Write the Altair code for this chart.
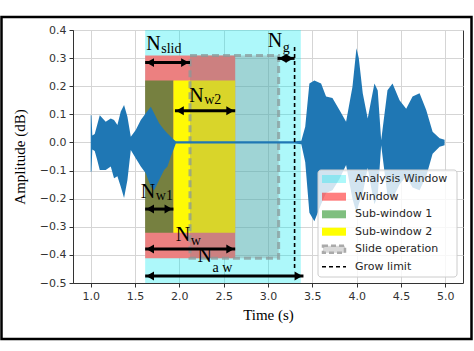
import altair as alt
import pandas as pd

# ---------------- data ----------------
# waveform envelope (time s, upper and lower amplitude)
wave_t = [1.000, 1.008, 1.018, 1.045, 1.071, 1.102, 1.169, 1.226, 1.263, 1.301,
          1.339, 1.376, 1.414, 1.452, 1.508, 1.565, 1.621, 1.678, 1.715, 1.772,
          1.828, 1.866, 1.904, 1.941, 1.960, 2.400, 2.800, 3.300, 3.376, 3.420,
          3.467, 3.523, 3.599, 3.655, 3.727, 3.806, 3.881, 3.953, 3.998, 4.024,
          4.069, 4.125, 4.164, 4.201, 4.238, 4.277, 4.348, 4.405, 4.484, 4.559,
          4.631, 4.710, 4.785, 4.857, 4.936, 4.992]
wave_top = [0.097, 0.097, 0.025, 0.030, 0.060, 0.097, 0.074, 0.085, 0.080, 0.062,
            0.110, 0.133, 0.091, 0.020, 0.044, 0.080, 0.104, 0.127, 0.104, 0.068,
            0.045, 0.032, 0.020, 0.009, 0.004, 0.004, 0.004, 0.004, 0.006, 0.056,
            0.210, 0.220, 0.210, 0.163, 0.158, 0.115, 0.074, 0.198, 0.335, 0.300,
            0.175, 0.085, 0.150, 0.210, 0.185, 0.008, 0.186, 0.210, 0.150, 0.120,
            0.163, 0.175, 0.115, 0.038, 0.015, 0.010]
wave_bot = [-0.104, -0.104, -0.025, -0.030, -0.060, -0.098, -0.098, -0.086, -0.127, -0.120,
            -0.158, -0.198, -0.134, -0.027, -0.056, -0.086, -0.110, -0.158, -0.170, -0.134,
            -0.098, -0.086, -0.050, -0.020, -0.004, -0.004, -0.004, -0.004, -0.006, -0.070,
            -0.250, -0.280, -0.220, -0.180, -0.170, -0.130, -0.080, -0.200, -0.250, -0.220,
            -0.180, -0.090, -0.160, -0.220, -0.190, -0.010, -0.190, -0.200, -0.150, -0.120,
            -0.160, -0.170, -0.120, -0.040, -0.015, -0.010]

# shaded windows
region_names = ["Analysis Window", "Window", "Sub-window 1", "Sub-window 2"]
region_x1 = [1.614, 1.614, 1.614, 1.933]
region_x2 = [3.370, 2.630, 1.933, 2.630]
region_y1 = [-0.500, -0.412, -0.321, -0.321]
region_y2 = [0.400, 0.309, 0.220, 0.220]
region_colors = ["#00e8f0", "#ec8080", "#008000", "#ffff00"]
region_alpha = [0.32, 1.0, 0.50, 0.96]
legend_colors = ["#00e8f0", "#ff0000", "#008000", "#ffff00"]
legend_alpha = [0.32, 0.5, 0.5, 1.0]

# slide operation (window shifted by N_slid)
slide_x = [2.120, 3.120]
slide_y = [-0.412, 0.309]

# grow limit
grow_x = 3.300
grow_y = [-0.447, 0.347]

# double arrows
arrow_x1 = [1.614, 3.108, 1.950, 1.614, 1.614, 1.614]
arrow_x2 = [2.120, 3.300, 2.630, 1.933, 2.630, 3.400]
arrow_y = [0.284, 0.299, 0.113, -0.237, -0.379, -0.475]

# labels N_sub
label_x = [1.626, 2.996, 2.111, 1.565, 1.960, 2.205]
label_y = [0.329, 0.341, 0.145, -0.199, -0.350, -0.425]
label_sub = ["slid", "g", "w2", "w1", "w", "a w"]
label_sub_drop = [0.011, 0.018, 0.009, 0.007, 0.014, 0.036]

legend_labels = ["Analysis Window", "Window", "Sub-window 1", "Sub-window 2",
                 "Slide operation", "Grow limit"]

x_ticks = [1.0, 1.5, 2.0, 2.5, 3.0, 3.5, 4.0, 4.5, 5.0]
y_ticks = [-0.5, -0.4, -0.3, -0.2, -0.1, 0.0, 0.1, 0.2, 0.3, 0.4]

# ---------------- chart ----------------
W, H = 390, 253
Y0, Y1 = -0.5, 0.4


def px_to_v(py):
    return Y1 - py * (Y1 - Y0) / H


xs = alt.Scale(domain=[0.8, 5.2], nice=False, zero=False)
ys = alt.Scale(domain=[Y0, Y1], nice=False, zero=False)
xaxis = alt.Axis(values=x_ticks, format=".1f", title="Time (s)", grid=True,
                 tickSize=4, labelPadding=3, titlePadding=6)
yaxis = alt.Axis(values=y_ticks, format=".1f", title="Amplitude (dB)", grid=True,
                 tickSize=4, labelPadding=3, titlePadding=12)


def X(f):
    return alt.X(f, scale=xs, axis=xaxis)


def Y(f):
    return alt.Y(f, scale=ys, axis=yaxis)


wave = pd.DataFrame({"t": wave_t, "v": wave_top, "v2": wave_bot})
regions = pd.DataFrame({"name": region_names, "t": region_x1, "t2": region_x2,
                        "v": region_y1, "v2": region_y2, "c": region_colors,
                        "a": region_alpha, "o": list(range(len(region_names)))})
slide = pd.DataFrame({"t": [slide_x[0]], "t2": [slide_x[1]],
                      "v": [slide_y[0]], "v2": [slide_y[1]]})
grow = pd.DataFrame({"t": [grow_x], "v": [grow_y[0]], "v2": [grow_y[1]]})
arrows = pd.DataFrame({"t": arrow_x1, "t2": arrow_x2, "v": arrow_y})
labels = pd.DataFrame({"t": label_x, "v": label_y, "sub": label_sub,
                       "vs": [a - b for a, b in zip(label_y, label_sub_drop)],
                       "N": ["N"] * len(label_x)})

reg = alt.Chart(regions).mark_rect().encode(
    x=X("t:Q"), x2="t2", y=Y("v:Q"), y2="v2",
    fill=alt.Fill("c:N", scale=None), opacity=alt.Opacity("a:Q", scale=None),
    order="o:Q")

sl = alt.Chart(slide).mark_rect(fill="#808080", fillOpacity=0.3, stroke="#8a9a9a",
                                strokeOpacity=0.75, strokeWidth=3,
                                strokeDash=[7, 4]).encode(
    x=X("t:Q"), x2="t2", y=Y("v:Q"), y2="v2")

wv = alt.Chart(wave).mark_area(color="#1f77b4", opacity=1, line=False).encode(
    x=X("t:Q"), y=Y("v:Q"), y2="v2")

gr = alt.Chart(grow).mark_rule(color="black", strokeWidth=1.6, strokeDash=[4, 3]).encode(
    x=X("t:Q"), y=Y("v:Q"), y2="v2")

ar_line = alt.Chart(arrows).mark_rule(color="black", strokeWidth=3).encode(
    x=X("t:Q"), x2="t2", y=Y("v:Q"))
ar_l = alt.Chart(arrows).mark_point(shape="triangle-left", filled=True, size=80,
                                    color="black", opacity=1, xOffset=5).encode(
    x=X("t:Q"), y=Y("v:Q"))
ar_r = alt.Chart(arrows).mark_point(shape="triangle-right", filled=True, size=80,
                                    color="black", opacity=1, xOffset=-5).encode(
    x=X("t2:Q"), y=Y("v:Q"))

lab_n = alt.Chart(labels).mark_text(align="left", baseline="alphabetic",
                                    font="Liberation Serif", fontSize=20,
                                    color="black").encode(
    x=X("t:Q"), y=Y("v:Q"), text="N:N")
lab_s = alt.Chart(labels).mark_text(align="left", baseline="alphabetic",
                                    font="Liberation Serif", fontSize=14, dx=15,
                                    color="black").encode(
    x=X("t:Q"), y=Y("vs:Q"), text="sub:N")

# ---- legend (box inside plot, lower right) ----
LX0, LX1, LY0, LY1 = 245, 384, 140, 247
row_py = [149, 166.7, 184.3, 201.7, 219.3, 236.7]
leg_bg = alt.Chart(pd.DataFrame({"d": [0]})).mark_rect(
    fill="white", fillOpacity=0.8, stroke="#cccccc", strokeWidth=1,
    cornerRadius=3).encode(x=alt.value(LX0), x2=alt.value(LX1),
                           y=alt.value(LY0), y2=alt.value(LY1))

leg_patch = pd.DataFrame({
    "v": [px_to_v(p - 4) for p in row_py[:4]],
    "v2": [px_to_v(p + 4) for p in row_py[:4]],
    "c": legend_colors, "a": legend_alpha})
leg_p = alt.Chart(leg_patch).mark_rect().encode(
    x=alt.value(249), x2=alt.value(273), y=Y("v:Q"), y2="v2",
    fill=alt.Fill("c:N", scale=None), opacity=alt.Opacity("a:Q", scale=None))
leg_slide = alt.Chart(pd.DataFrame({"v": [px_to_v(row_py[4] - 3.5)],
                                    "v2": [px_to_v(row_py[4] + 3.5)]})).mark_rect(
    fill="#808080", fillOpacity=0.3, stroke="#aaaaaa", strokeWidth=2.5,
    strokeDash=[5, 3]).encode(x=alt.value(250), x2=alt.value(272), y=Y("v:Q"), y2="v2")
leg_grow = alt.Chart(pd.DataFrame({"v": [px_to_v(row_py[5])]})).mark_rule(
    color="black", strokeWidth=1.6, strokeDash=[4, 3]).encode(
    x=alt.value(249), x2=alt.value(273), y=Y("v:Q"))
leg_text = alt.Chart(pd.DataFrame({"lab": legend_labels,
                                   "v": [px_to_v(p) for p in row_py]})).mark_text(
    align="left", baseline="middle", font="DejaVu Sans", fontSize=11,
    color="#262626").encode(x=alt.value(282), y=Y("v:Q"), text="lab:N")

border = alt.Chart(pd.DataFrame({"d": [0]})).mark_rect(
    filled=False, stroke="black", strokeWidth=2.5).encode(
    x=alt.value(-71.5), x2=alt.value(398.5), y=alt.value(-13), y2=alt.value(309))

chart = alt.layer(
    reg, sl, wv, gr, ar_line, ar_l, ar_r, lab_n, lab_s,
    leg_bg, leg_p, leg_slide, leg_grow, leg_text, border
).properties(
    width=W, height=H,
    padding={"left": 73, "top": 30, "right": 11, "bottom": 68},
    autosize=alt.AutoSizeParams(type="none"),
    background="white",
).configure_view(
    stroke="#333333", strokeWidth=1
).configure_axis(
    labelFont="DejaVu Sans", labelFontSize=11, labelColor="#333333",
    titleFont="Liberation Serif", titleFontSize=15, titleFontWeight="normal",
    titleColor="black", domainColor="#333333", tickColor="#333333",
    gridColor="#d5d5d5", gridWidth=1
)

chart.save("out.html", embed_options={"renderer": "svg", "actions": False})
